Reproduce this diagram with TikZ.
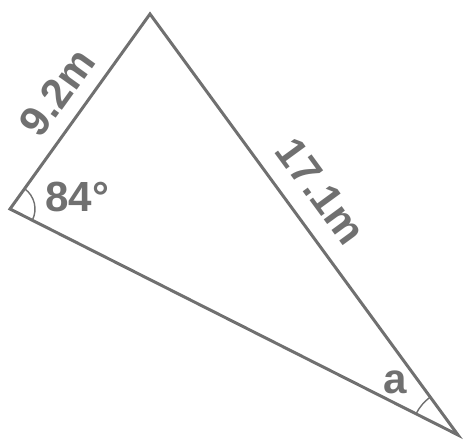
\documentclass[tikz,border=0pt]{standalone}
\usepackage{fontspec}
\setmainfont{Liberation Sans}
\usetikzlibrary{angles}
\definecolor{linegray}{RGB}{112,112,112}
\tikzset{
  side/.style={draw=linegray, line width=1.7pt, line join=miter},
  lbl/.style={text=linegray, font=\fontsize{24}{28}\selectfont\bfseries, inner sep=0pt},
  anglearc/.style={draw=linegray, line width=0.8pt}
}
\begin{document}
\begin{tikzpicture}[x=0.02cm, y=0.02cm]
\useasboundingbox (0,0) rectangle (474,445);

% Corners
\coordinate (T) at (150,431);
\coordinate (L) at (10,236);
\coordinate (R) at (458,10);

% Triangle with side lengths
\draw[side] (L) -- node[lbl, pos=0.51, sloped, yshift=17pt] (sideA) {9.2m} (T)
  -- node[lbl, pos=0.467, sloped, yshift=19pt] (sideB) {17.1m} (R) -- cycle;

% Angles
\pic[anglearc, angle radius=0.5cm] {angle = R--L--T};
\pic[anglearc, angle radius=0.94cm] {angle = T--R--L};
\node[lbl] (angL) at (77,248) {84°};
\node[lbl] (angR) at (395,63) {a};

\end{tikzpicture}
\end{document}
